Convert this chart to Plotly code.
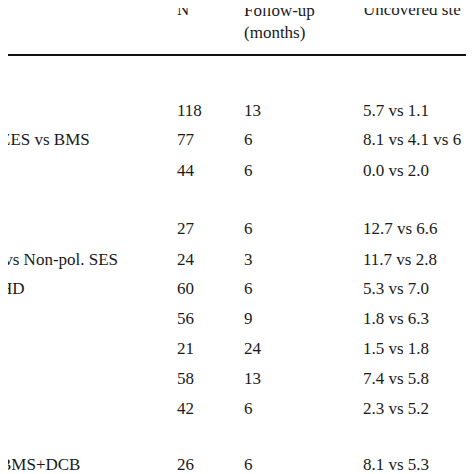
import plotly.graph_objects as go

# table content (cropped view of a published table)
headers = ["N", "Follow-up<br>(months)", "Uncovered ste"]
labels = ["", "ZES vs BMS", "", "", " vs Non-pol. SES", "HD", "", "", "", "", "BMS+DCB"]
n_vals = ["118", "77", "44", "27", "24", "60", "56", "21", "58", "42", "26"]
follow = ["13", "6", "6", "6", "3", "6", "9", "24", "13", "6", "6"]
uncovered = ["5.7 vs 1.1", "8.1 vs 4.1 vs 6", "0.0 vs 2.0", "12.7 vs 6.6", "11.7 vs 2.8",
             "5.3 vs 7.0", "1.8 vs 6.3", "1.5 vs 1.8", "7.4 vs 5.8", "2.3 vs 5.2", "8.1 vs 5.3"]
row_y = [110, 140, 170, 229, 259, 288, 318, 348, 378, 408, 464]

W = 474.0
OFF = 8  # page body offset
font = dict(family="Liberation Serif", size=17, color="#1a1a1a")
fig = go.Figure()
anns = []
def add(x, y, t):
    anns.append(dict(x=(x - OFF) / W, y=1 - (y - OFF) / W, text=t, showarrow=False,
                     xanchor="left", yanchor="middle", align="left", font=font,
                     xref="paper", yref="paper"))

add(175, 10, headers[0])
add(242, 21, headers[1])
add(361, 10, headers[2])
for y, lab, n, f, u in zip(row_y, labels, n_vals, follow, uncovered):
    if lab:
        add(-2, y, lab)
    add(175, y, n)
    add(242, y, f)
    add(361, y, u)

fig.add_shape(type="line", xref="paper", yref="paper", x0=-0.05, x1=1.05,
              y0=1 - (55 - OFF) / W, y1=1 - (55 - OFF) / W, line=dict(color="#111", width=2.2))
fig.update_layout(width=474, height=474, margin=dict(l=0, r=0, t=0, b=0),
                  plot_bgcolor="white", paper_bgcolor="white", annotations=anns,
                  xaxis=dict(range=[0, 1], visible=False),
                  yaxis=dict(range=[0, 1], visible=False), showlegend=False)
fig.write_html("out.html")
